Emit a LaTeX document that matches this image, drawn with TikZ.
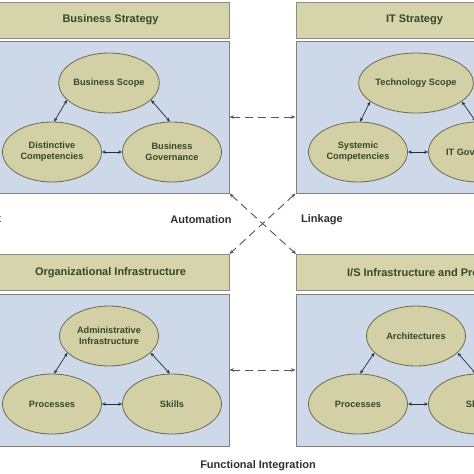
\documentclass[tikz,border=0pt]{standalone}
\usepackage{fontspec}
\setmainfont{Liberation Sans}
\usetikzlibrary{shapes.geometric,arrows.meta}
\definecolor{hdrfill}{RGB}{214,212,170}
\definecolor{hdrline}{RGB}{140,140,128}
\definecolor{panfill}{RGB}{205,217,232}
\definecolor{panline}{RGB}{125,128,132}
\definecolor{elfill}{RGB}{212,208,165}
\definecolor{elline}{RGB}{105,108,80}
\definecolor{txtgreen}{RGB}{52,72,40}
\definecolor{dashgray}{RGB}{85,85,85}
\definecolor{arrnavy}{RGB}{35,45,65}
\definecolor{lblgray}{RGB}{45,50,50}
\begin{document}
\begin{tikzpicture}[x=1pt,y=-1pt,
 hdr/.style={draw=hdrline, line width=1pt, fill=hdrfill, minimum width=237pt, minimum height=36pt, inner sep=0pt, font=\fontsize{11}{13}\selectfont\bfseries, text=txtgreen},
 panel/.style={draw=panline, line width=1pt, fill=panfill, minimum width=237pt, minimum height=152pt, inner sep=0pt},
 oval/.style={ellipse, draw=elline, line width=0.8pt, fill=elfill, minimum width=99pt, minimum height=60pt, inner sep=0pt, align=center, font=\fontsize{9.2}{11}\selectfont\bfseries, text=txtgreen},
 link/.style={draw=arrnavy, line width=0.7pt, {Stealth[length=4pt,width=3.2pt]}-{Stealth[length=4pt,width=3.2pt]}},
 dlink/.style={draw=dashgray, line width=0.9pt, dash pattern=on 8pt off 5pt, {Stealth[length=4.5pt,width=3.5pt]}-{Stealth[length=4.5pt,width=3.5pt]}},
 lbl/.style={font=\fontsize{11}{13}\selectfont\bfseries, text=lblgray}]
\useasboundingbox (0,0) rectangle (474,474);
\clip (0,0) rectangle (474,474);
% headers and panels
\node[hdr] (h1) at (110.5,20) {Business Strategy};
\node[hdr] (h2) at (414.5,20) {IT Strategy};
\node[hdr] (h3) at (110.5,272.5) {Organizational Infrastructure};
\node[hdr, anchor=west] (h4) at (296,272.5) {\hspace*{33pt}I/S Infrastructure and Processes\hspace*{0pt}};
\node[panel] (p1) at (110.5,117) {};
\node[panel] (p2) at (414.5,117) {};
\node[panel] (p3) at (110.5,370) {};
\node[panel] (p4) at (414.5,370) {};
% ellipses top-left
\node[oval] (bs) at (109,83) {Business Scope};
\node[oval] (dc) at (52,152) {Distinctive\\Competencies};
\node[oval] (bg) at (172,152) {Business\\Governance};
% top-right
\node[oval] (ts) at (416,83) {Technology Scope};
\node[oval] (sc) at (358,152) {Systemic\\Competencies};
\node[oval] (ig) at (478,152) {IT Governance};
% bottom-left
\node[oval] (ai) at (109,336) {Administrative\\Infrastructure};
\node[oval] (pr) at (52,404) {Processes};
\node[oval] (sk) at (172,404) {Skills};
% bottom-right
\node[oval] (ar) at (416,336) {Architectures};
\node[oval] (pr2) at (358,404) {Processes};
\node[oval] (sk2) at (478,404) {Skills};
% ellipse links
\foreach \t/\l/\r in {bs/dc/bg, ts/sc/ig, ai/pr/sk, ar/pr2/sk2}{
  \draw[link] (\t.202) -- (\l.86);
  \draw[link] (\t.338) -- (\r.94);
  \draw[link] (\l.east) -- (\r.west);
}
% dashed connectors
\draw[dlink] (p1.east) -- (p2.west);
\draw[dlink] (p3.east) -- (p4.west);
\draw[dlink] (p1.south east) -- (h4.north west);
\draw[dlink] (p2.south west) -- (h3.north east);
% labels
\node[lbl] (au) at (201,220) {Automation};
\node[lbl] (lk) at (322,220) {Linkage};
\node[lbl, anchor=east] (sf) at (4.5,220) {Strategic Fit};
\node[lbl] (fi) at (258,466) {Functional Integration};
\end{tikzpicture}
\end{document}
